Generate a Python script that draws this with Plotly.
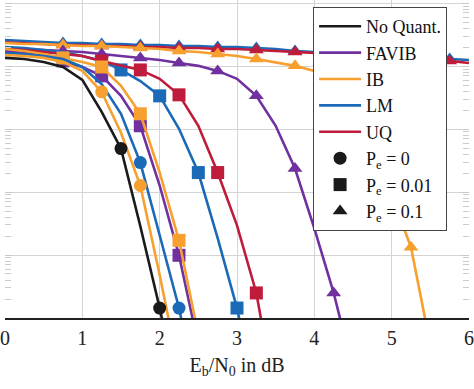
import plotly.graph_objects as go

# ---------------- data (BER vs Eb/N0 in dB, 0.25 dB grid starting at 0) ----------------
step = 0.25

no_quant = [0.135, 0.13, 0.116, 0.097, 0.0605, 0.0188, 0.0049, 2.86e-4, 1.44e-5, 5e-7]

ib_p0 = [0.150, 0.145, 0.135, 0.116, 0.084, 0.039, 0.00877, 0.00127, 4.8e-5, 1.5e-6]
lm_p0 = [0.162, 0.156, 0.145, 0.130, 0.097, 0.052, 0.0175, 0.00294, 2.06e-4, 1.44e-5, 5e-7]

favib_p001 = [0.174, 0.162, 0.145, 0.121, 0.097, 0.070, 0.0337, 0.0113, 0.00127, 9.9e-5, 3.7e-6]
ib_p001 = [0.187, 0.174, 0.156, 0.135, 0.116, 0.097, 0.0486, 0.0175, 0.00204, 1.71e-4, 5.4e-6]
lm_p001 = [0.201, 0.194, 0.18, 0.168, 0.145, 0.121, 0.087, 0.058, 0.0337, 0.0101, 0.00204,
           1.85e-4, 1.44e-5, 5e-7]
uq_p001 = [0.187, 0.18, 0.168, 0.156, 0.145, 0.121, 0.104, 0.087, 0.063, 0.035, 0.0113,
           0.00204, 2.96e-4, 2.5e-5, 5e-7]

lm_p01 = [0.26, 0.25, 0.24, 0.233, 0.233, 0.224, 0.224, 0.216, 0.216, 0.209, 0.209, 0.201,
          0.201, 0.194, 0.187, 0.174, 0.168, 0.162, 0.156, 0.150, 0.145, 0.140, 0.135, 0.130, 0.125]
uq_p01 = [0.24, 0.233, 0.224, 0.216, 0.216, 0.209, 0.209, 0.201, 0.201, 0.194, 0.194, 0.187,
          0.187, 0.18, 0.174, 0.168, 0.162, 0.156, 0.150, 0.145, 0.140, 0.135, 0.125, 0.121, 0.112]
ib_p01 = [0.233, 0.224, 0.224, 0.216, 0.209, 0.209, 0.201, 0.194, 0.187, 0.174, 0.168, 0.156,
          0.145, 0.130, 0.116, 0.101, 0.084, 0.0542, 0.0234, 0.00546, 8.8e-4, 1.33e-4, 3.7e-6]
favib_p01 = [0.194, 0.187, 0.18, 0.174, 0.168, 0.156, 0.145, 0.135, 0.125, 0.112, 0.101, 0.084,
             0.063, 0.0337, 0.0113, 0.00236, 2.65e-4, 2.5e-5, 1.5e-6]

x_ticks = [0, 1, 2, 3, 4, 5, 6]

# ---------------- styles ----------------
C_BLACK = "#1a1a1a"
C_PURPLE = "#7030a0"
C_ORANGE = "#f7a030"
C_BLUE = "#1b6ab8"
C_RED = "#bf1b3b"

# (values, color, marker symbol, first marker index, marker step)
curves = [
    (lm_p01, C_BLUE, "triangle-up", 3, 2),
    (uq_p01, C_RED, "triangle-up", 3, 2),
    (ib_p01, C_ORANGE, "triangle-up", 3, 2),
    (favib_p01, C_PURPLE, "triangle-up", 3, 2),
    (lm_p001, C_BLUE, "square", 6, 2),
    (uq_p001, C_RED, "square", 5, 2),
    (favib_p001, C_PURPLE, "square", 3, 2),
    (ib_p001, C_ORANGE, "square", 3, 2),
    (lm_p0, C_BLUE, "circle", 7, 2),
    (ib_p0, C_ORANGE, "circle", 5, 2),
    (no_quant, C_BLACK, "circle", 6, 2),
]

FONT = "Liberation Serif"
fig = go.Figure()

for vals, col, sym, m0, ms in curves:
    xs = [i * step for i in range(len(vals))]
    fig.add_trace(go.Scatter(x=xs, y=vals, mode="lines",
                             line=dict(color=col, width=2.6), showlegend=False,
                             hoverinfo="skip"))
    fig.add_trace(go.Scatter(x=xs[m0::ms], y=vals[m0::ms], mode="markers",
                             marker=dict(symbol=sym, size=13, color=col),
                             showlegend=False, hoverinfo="skip"))

# legend-only entries
for name, col in [("No Quant.", C_BLACK), ("FAVIB", C_PURPLE), ("IB", C_ORANGE),
                  ("LM", C_BLUE), ("UQ", C_RED)]:
    fig.add_trace(go.Scatter(x=[None], y=[None], mode="lines", name=name,
                             line=dict(color=col, width=2.6)))
for name, sym in [("P<sub>e</sub> = 0", "circle"), ("P<sub>e</sub> = 0.01", "square"),
                  ("P<sub>e</sub> = 0.1", "triangle-up")]:
    fig.add_trace(go.Scatter(x=[None], y=[None], mode="markers", name=name,
                             marker=dict(symbol=sym, size=13, color=C_BLACK)))

fig.update_layout(
    width=474, height=389,
    margin=dict(l=0, r=0, t=0, b=71),
    paper_bgcolor="white", plot_bgcolor="white",
    font=dict(family=FONT, size=20, color="#222"),
    showlegend=True,
    legend=dict(x=0.664, y=0.978, xanchor="left", yanchor="top",
                bgcolor="white", bordercolor="#444", borderwidth=1,
                font=dict(family=FONT, size=18, color="#111"),
                tracegroupgap=0, itemwidth=42),
    xaxis=dict(range=[0, 6], tickvals=x_ticks, ticktext=[str(v) for v in x_ticks],
               showgrid=True, gridcolor="#d4d4d4", gridwidth=1,
               showline=True, linecolor="#222", linewidth=2, zeroline=False,
               ticks="", ticklabeloverflow="allow", ticklabelstandoff=1,
               tickfont=dict(family=FONT, size=20, color="#222"),
               title=dict(text="E<sub>b</sub>/N<sub>0</sub> in dB", standoff=10,
                          font=dict(family=FONT, size=20, color="#222"))),
    yaxis=dict(type="log", range=[-5, 0.05], dtick=1, showticklabels=False,
               showgrid=True, gridcolor="#d4d4d4", gridwidth=1,
               zeroline=False, showline=False,
               ticks="inside", ticklen=7, tickcolor="#c8c8c8", mirror="ticks",
               minor=dict(ticks="inside", ticklen=6, tickcolor="#cccccc", dtick="D1",
                          showgrid=False)),
)

fig.write_html("out.html", config={"displayModeBar": False},
               post_script="document.body.style.margin='0';document.body.style.padding='0';")
